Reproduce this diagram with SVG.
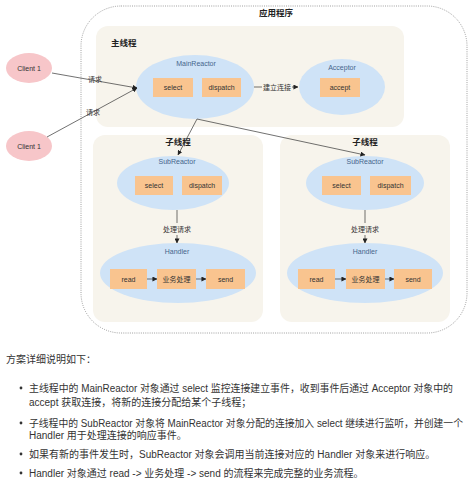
<svg xmlns="http://www.w3.org/2000/svg" width="474" height="482" viewBox="0 0 474 482">
<defs>
<marker id="ah" viewBox="0 0 6 6" refX="5.5" refY="3" markerWidth="5" markerHeight="5" markerUnits="userSpaceOnUse" orient="auto"><path d="M0,0 L6,3 L0,6 Z" fill="#222"/></marker>
<style>
text{font-family:"Liberation Sans","Noto Sans CJK SC",sans-serif}
.panel{fill:#f7f4ec}
.ell{fill:#cfe3f7}
.cli{fill:#f7c6c9}
.box{fill:#f9c48f}
.t7{font-size:7px;fill:#333;text-anchor:middle;dominant-baseline:central}
.lbl{font-size:7px;fill:#46658c;text-anchor:middle;dominant-baseline:central}
.ttl{font-size:8.5px;font-weight:bold;fill:#222;dominant-baseline:central}
.ln{stroke:#333;stroke-width:0.7;fill:none;marker-end:url(#ah)}
.body{font-size:10px;fill:#333}
</style>
</defs>
<rect width="474" height="482" fill="#fff"/>
<g id="app">
<rect x="81" y="6" width="386" height="327" rx="40" fill="none" stroke="#888" stroke-width="0.8" stroke-dasharray="1,1.2"/>
<text class="ttl" x="259" y="13">应用程序</text>
</g>
<g id="main-thread">
<rect class="panel" x="96" y="26" width="308" height="101" rx="12"/>
<text class="ttl" x="111" y="43">主线程</text>
</g>
<g id="sub-thread-1">
<rect class="panel" x="93" y="135" width="170" height="187" rx="12"/>
<text class="ttl" x="178" y="142" text-anchor="middle">子线程</text>
</g>
<g id="sub-thread-2">
<rect class="panel" x="280" y="135" width="170" height="187" rx="12"/>
<text class="ttl" x="365" y="142" text-anchor="middle">子线程</text>
</g>
<g id="client1">
<ellipse class="cli" cx="29" cy="68" rx="23" ry="15"/>
<text class="t7" x="29" y="68">Client 1</text>
</g>
<g id="client2">
<ellipse class="cli" cx="29" cy="146" rx="23" ry="15"/>
<text class="t7" x="29" y="146">Client 1</text>
</g>
<g id="main-reactor">
<ellipse class="ell" cx="195" cy="87" rx="59" ry="32"/>
<text class="lbl" x="196" y="63">MainReactor</text>
<rect class="box" x="153" y="78" width="40" height="19"/>
<text class="t7" x="173" y="87.5">select</text>
<rect class="box" x="202" y="78" width="39" height="19"/>
<text class="t7" x="221.5" y="87.5">dispatch</text>
</g>
<g id="acceptor">
<ellipse class="ell" cx="342" cy="87" rx="43" ry="28"/>
<text class="lbl" x="342" y="67">Acceptor</text>
<rect class="box" x="320" y="78" width="40" height="19"/>
<text class="t7" x="340" y="87.5">accept</text>
</g>
<g id="sub-reactor-1">
<ellipse class="ell" cx="173" cy="183" rx="56" ry="27"/>
<text class="lbl" x="177" y="161">SubReactor</text>
<rect class="box" x="135" y="176" width="38" height="19"/>
<text class="t7" x="154" y="185.5">select</text>
<rect class="box" x="182" y="176" width="40" height="19"/>
<text class="t7" x="202" y="185.5">dispatch</text>
</g>
<g id="handler-1">
<ellipse class="ell" cx="178" cy="273" rx="78" ry="30"/>
<text class="lbl" x="177" y="251">Handler</text>
<rect class="box" x="110" y="269" width="37" height="20"/>
<text class="t7" x="128.5" y="279">read</text>
<rect class="box" x="157" y="269" width="39" height="20"/>
<text class="t7" x="176.5" y="279">业务处理</text>
<rect class="box" x="206" y="269" width="39" height="20"/>
<text class="t7" x="225.5" y="279">send</text>
</g>
<g id="sub-reactor-2">
<ellipse class="ell" cx="365" cy="183" rx="59" ry="27"/>
<text class="lbl" x="365" y="161">SubReactor</text>
<rect class="box" x="322" y="176" width="39" height="19"/>
<text class="t7" x="341.5" y="185.5">select</text>
<rect class="box" x="370" y="176" width="41" height="19"/>
<text class="t7" x="390.5" y="185.5">dispatch</text>
</g>
<g id="handler-2">
<ellipse class="ell" cx="365" cy="273" rx="78" ry="30"/>
<text class="lbl" x="365" y="251">Handler</text>
<rect class="box" x="298" y="269" width="37" height="20"/>
<text class="t7" x="316.5" y="279">read</text>
<rect class="box" x="346" y="269" width="39" height="20"/>
<text class="t7" x="365.5" y="279">业务处理</text>
<rect class="box" x="394" y="269" width="38" height="20"/>
<text class="t7" x="413" y="279">send</text>
</g>
<g id="connectors">
<line class="ln" x1="52" y1="73" x2="137" y2="88"/>
<text class="t7" x="95" y="79">请求</text>
<line class="ln" x1="47" y1="137" x2="137" y2="88"/>
<text class="t7" x="93" y="112">请求</text>
<line class="ln" x1="254" y1="87" x2="298" y2="87"/>
<rect class="panel" x="262" y="82" width="30" height="10"/>
<text class="t7" x="277" y="87">建立连接</text>
<line class="ln" x1="197" y1="119" x2="178" y2="155"/>
<line class="ln" x1="197" y1="119" x2="365" y2="155"/>
<line class="ln" x1="177" y1="210" x2="177" y2="243"/>
<rect class="panel" x="162" y="223" width="30" height="12"/>
<text class="t7" x="177" y="229">处理请求</text>
<line class="ln" x1="365" y1="210" x2="365" y2="243"/>
<rect class="panel" x="350" y="223" width="30" height="12"/>
<text class="t7" x="365" y="229">处理请求</text>
<line class="ln" x1="147" y1="279" x2="157" y2="279"/>
<line class="ln" x1="196" y1="279" x2="206" y2="279"/>
<line class="ln" x1="335" y1="279" x2="346" y2="279"/>
<line class="ln" x1="385" y1="279" x2="394" y2="279"/>
</g>
<g id="description">
<text class="body" x="6" y="362.5">方案详细说明如下：</text>
<circle cx="21" cy="388" r="1.4" fill="#333"/>
<text class="body" x="29" y="391.5" textLength="424" lengthAdjust="spacingAndGlyphs">主线程中的 MainReactor 对象通过 select 监控连接建立事件，收到事件后通过 Acceptor 对象中的</text>
<text class="body" x="29" y="405.5">accept  获取连接，将新的连接分配给某个子线程；</text>
<circle cx="21" cy="423" r="1.4" fill="#333"/>
<text class="body" x="29" y="426.5" textLength="434" lengthAdjust="spacingAndGlyphs">子线程中的 SubReactor 对象将 MainReactor 对象分配的连接加入 select 继续进行监听，并创建一个</text>
<text class="body" x="29" y="439">Handler 用于处理连接的响应事件。</text>
<circle cx="21" cy="454" r="1.4" fill="#333"/>
<text class="body" x="29" y="457.5">如果有新的事件发生时，SubReactor 对象会调用当前连接对应的 Handler 对象来进行响应。</text>
<circle cx="21" cy="473" r="1.4" fill="#333"/>
<text class="body" x="29" y="476.5">Handler 对象通过 read -&gt; 业务处理 -&gt; send 的流程来完成完整的业务流程。</text>
</g>
</svg>
